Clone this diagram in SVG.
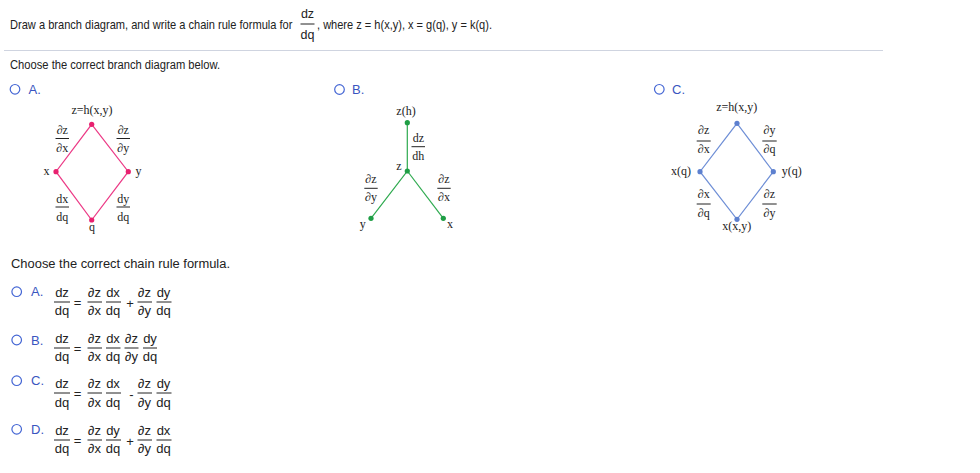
<svg xmlns="http://www.w3.org/2000/svg" width="980" height="473" viewBox="0 0 980 473">
<style>
.t{font-family:"Liberation Sans",Arial,sans-serif;font-size:12.5px;fill:#222}
.f{font-family:"Liberation Sans",Arial,sans-serif;font-size:13px;fill:#222;text-anchor:middle}
.op{font-family:"Liberation Sans",Arial,sans-serif;font-size:13px;fill:#222;text-anchor:middle}
.lab{font-family:"Liberation Sans",Arial,sans-serif;font-size:13px;fill:#3a55c0}
.s{font-family:"Liberation Serif","Times New Roman",serif;font-size:12px;fill:#222;text-anchor:middle}
.bar{stroke:#222;stroke-width:1}
.radio{fill:#fff;stroke:#4466d4;stroke-width:1.2}
.pink{stroke:#ec3a86;stroke-width:1.2;fill:none}
.green{stroke:#2eaa4f;stroke-width:1.2;fill:none}
.blue{stroke:#6f8fd6;stroke-width:1.2;fill:none}
.dp{fill:#e8206f}
.dg{fill:#1f9e45}
.db{fill:#5d80cf}
</style>
<rect width="980" height="473" fill="#fff"/>

<g id="header">
<text class="t" transform="translate(10,29) scale(0.887,1)">Draw a branch diagram, and write a chain rule formula for</text>
<text class="t" x="307.5" y="18" text-anchor="middle" font-size="12">dz</text>
<line class="bar" x1="300.5" y1="24" x2="314.5" y2="24"/>
<text class="t" x="307.5" y="38.5" text-anchor="middle" font-size="12">dq</text>
<text class="t" x="317" y="29" textLength="175" lengthAdjust="spacingAndGlyphs">, where z = h(x,y), x = g(q), y = k(q).</text>
<line x1="4" y1="50.5" x2="883" y2="50.5" stroke="#cfd4e0" stroke-width="1.2"/>
<text class="t" x="10" y="68.5" textLength="210" lengthAdjust="spacingAndGlyphs">Choose the correct branch diagram below.</text>
</g>

<g id="optA">
<circle class="radio" cx="15" cy="89.3" r="4.8"/>
<text class="lab" x="28.5" y="94">A.</text>
</g>
<g id="optB">
<circle class="radio" cx="339.5" cy="89.5" r="4.8"/>
<text class="lab" x="352" y="94">B.</text>
</g>
<g id="optC">
<circle class="radio" cx="659.3" cy="89.3" r="4.8"/>
<text class="lab" x="672" y="94">C.</text>
</g>

<g id="connectors">
<polygon class="pink" points="91.7,124.3 128.3,171.7 91.7,220 56,171.7"/>
<polyline class="green" points="407.3,122.7 407.3,171 371,218.3"/>
<line class="green" x1="407.3" y1="171" x2="443.3" y2="218.3"/>
<polygon class="blue" points="737,123.3 773.3,171.7 737,219.3 700,171.7"/>
</g>

<g id="diagramA">
<g id="a-top"><circle class="dp" cx="91.7" cy="124.3" r="2.6"/><text class="s" x="92" y="114">z=h(x,y)</text></g>
<g id="a-x"><circle class="dp" cx="56" cy="171.7" r="2.6"/><text class="s" x="46.5" y="175">x</text></g>
<g id="a-y"><circle class="dp" cx="128.3" cy="171.7" r="2.6"/><text class="s" x="138.5" y="175">y</text></g>
<g id="a-q"><circle class="dp" cx="91.7" cy="220" r="2.6"/><text class="s" x="92" y="231">q</text></g>
<g id="a-f1"><text class="s" x="62.3" y="133.5">∂z</text><line class="bar" x1="55.5" y1="138.5" x2="69" y2="138.5"/><text class="s" x="62.3" y="151.5">∂x</text></g>
<g id="a-f2"><text class="s" x="123.3" y="133.5">∂z</text><line class="bar" x1="116.5" y1="138.5" x2="130" y2="138.5"/><text class="s" x="123.3" y="151.5">∂y</text></g>
<g id="a-f3"><text class="s" x="62.3" y="203">dx</text><line class="bar" x1="55.5" y1="207" x2="69" y2="207"/><text class="s" x="62.3" y="220.5">dq</text></g>
<g id="a-f4"><text class="s" x="123.3" y="203">dy</text><line class="bar" x1="116.5" y1="207" x2="130" y2="207"/><text class="s" x="123.3" y="220.5">dq</text></g>
</g>

<g id="diagramB">
<g id="b-zh"><circle class="dg" cx="407.3" cy="122.7" r="2.6"/><text class="s" x="406" y="115">z(h)</text></g>
<g id="b-z"><circle class="dg" cx="407.3" cy="171" r="2.6"/><text class="s" x="399" y="170">z</text></g>
<g id="b-y"><circle class="dg" cx="371" cy="218.3" r="2.6"/><text class="s" x="362.7" y="227.5">y</text></g>
<g id="b-x"><circle class="dg" cx="443.3" cy="218.3" r="2.6"/><text class="s" x="450" y="228">x</text></g>
<g id="b-f1"><text class="s" x="418.3" y="142">dz</text><line class="bar" x1="411.5" y1="146.7" x2="425" y2="146.7"/><text class="s" x="418.3" y="160">dh</text></g>
<g id="b-f2"><text class="s" x="371" y="183">∂z</text><line class="bar" x1="364.3" y1="188.3" x2="377.7" y2="188.3"/><text class="s" x="371" y="201">∂y</text></g>
<g id="b-f3"><text class="s" x="444" y="183">∂z</text><line class="bar" x1="437.3" y1="188.3" x2="450.7" y2="188.3"/><text class="s" x="444" y="201">∂x</text></g>
</g>

<g id="diagramC">
<g id="c-top"><circle class="db" cx="737" cy="123.3" r="2.6"/><text class="s" x="736.7" y="111">z=h(x,y)</text></g>
<g id="c-x"><circle class="db" cx="700" cy="171.7" r="2.6"/><text class="s" x="691" y="175" style="text-anchor:end">x(q)</text></g>
<g id="c-y"><circle class="db" cx="773.3" cy="171.7" r="2.6"/><text class="s" x="781.7" y="175" style="text-anchor:start">y(q)</text></g>
<g id="c-bot"><circle class="db" cx="737" cy="219.3" r="2.6"/><text class="s" x="736.7" y="229.5">x(x,y)</text></g>
<g id="c-f1"><text class="s" x="703.7" y="133.5">∂z</text><line class="bar" x1="696.7" y1="141" x2="710.7" y2="141"/><text class="s" x="703.7" y="152.5">∂x</text></g>
<g id="c-f2"><text class="s" x="769.5" y="133.5">∂y</text><line class="bar" x1="762.3" y1="141" x2="776.7" y2="141"/><text class="s" x="769.5" y="152.5">∂q</text></g>
<g id="c-f3"><text class="s" x="703.7" y="198">∂x</text><line class="bar" x1="696.7" y1="204" x2="710.7" y2="204"/><text class="s" x="703.7" y="217">∂q</text></g>
<g id="c-f4"><text class="s" x="769.5" y="198">∂z</text><line class="bar" x1="762.3" y1="204" x2="776.7" y2="204"/><text class="s" x="769.5" y="217">∂y</text></g>
</g>

<g id="formulas">
<text class="t" x="11" y="268.3" font-size="13" textLength="219" lengthAdjust="spacingAndGlyphs">Choose the correct chain rule formula.</text>

<g id="fA">
<circle class="radio" cx="16.7" cy="291.7" r="4.8"/>
<text class="lab" x="31" y="296">A.</text>
<text class="f" x="62" y="297">dz</text><line class="bar" x1="54" y1="302" x2="70" y2="302"/><text class="f" x="62" y="315">dq</text>
<text class="op" x="77.5" y="307">=</text>
<text class="f" x="94.5" y="297">∂z</text><line class="bar" x1="87.5" y1="302" x2="102" y2="302"/><text class="f" x="94.5" y="315">∂x</text>
<text class="f" x="113" y="297">dx</text><line class="bar" x1="106" y1="302" x2="121" y2="302"/><text class="f" x="113" y="315">dq</text>
<text class="op" x="130" y="308">+</text>
<text class="f" x="144.5" y="297">∂z</text><line class="bar" x1="137.5" y1="302" x2="152" y2="302"/><text class="f" x="144.5" y="315">∂y</text>
<text class="f" x="163.5" y="297">dy</text><line class="bar" x1="156.5" y1="302" x2="171.5" y2="302"/><text class="f" x="163.5" y="315">dq</text>
</g>

<g id="fB">
<circle class="radio" cx="16.7" cy="340" r="4.8"/>
<text class="lab" x="31" y="344.5">B.</text>
<text class="f" x="62" y="343">dz</text><line class="bar" x1="54" y1="348" x2="70" y2="348"/><text class="f" x="62" y="361">dq</text>
<text class="op" x="77.5" y="353">=</text>
<text class="f" x="94.5" y="343">∂z</text><line class="bar" x1="87.5" y1="348" x2="102" y2="348"/><text class="f" x="94.5" y="361">∂x</text>
<text class="f" x="113" y="343">dx</text><line class="bar" x1="106" y1="348" x2="120.5" y2="348"/><text class="f" x="113" y="361">dq</text>
<text class="f" x="131.5" y="343">∂z</text><line class="bar" x1="124.5" y1="348" x2="138.5" y2="348"/><text class="f" x="131.5" y="361">∂y</text>
<text class="f" x="150" y="343">dy</text><line class="bar" x1="143" y1="348" x2="157" y2="348"/><text class="f" x="150" y="361">dq</text>
</g>

<g id="fC">
<circle class="radio" cx="16.7" cy="380.7" r="4.8"/>
<text class="lab" x="31" y="385">C.</text>
<text class="f" x="62" y="388">dz</text><line class="bar" x1="54" y1="393" x2="70" y2="393"/><text class="f" x="62" y="406.5">dq</text>
<text class="op" x="77.5" y="398">=</text>
<text class="f" x="94.5" y="388">∂z</text><line class="bar" x1="87.5" y1="393" x2="102" y2="393"/><text class="f" x="94.5" y="406.5">∂x</text>
<text class="f" x="113" y="388">dx</text><line class="bar" x1="106" y1="393" x2="121" y2="393"/><text class="f" x="113" y="406.5">dq</text>
<text class="op" x="131.5" y="398.5">-</text>
<text class="f" x="144.5" y="388">∂z</text><line class="bar" x1="137.5" y1="393" x2="152" y2="393"/><text class="f" x="144.5" y="406.5">∂y</text>
<text class="f" x="163.5" y="388">dy</text><line class="bar" x1="156.5" y1="393" x2="171.5" y2="393"/><text class="f" x="163.5" y="406.5">dq</text>
</g>

<g id="fD">
<circle class="radio" cx="16.7" cy="429.3" r="4.8"/>
<text class="lab" x="31" y="433.5">D.</text>
<text class="f" x="62" y="435">dz</text><line class="bar" x1="54" y1="440" x2="70" y2="440"/><text class="f" x="62" y="453">dq</text>
<text class="op" x="77.5" y="445">=</text>
<text class="f" x="94.5" y="435">∂z</text><line class="bar" x1="87.5" y1="440" x2="102" y2="440"/><text class="f" x="94.5" y="453">∂x</text>
<text class="f" x="113" y="435">dy</text><line class="bar" x1="106" y1="440" x2="121" y2="440"/><text class="f" x="113" y="453">dq</text>
<text class="op" x="130" y="446">+</text>
<text class="f" x="144.5" y="435">∂z</text><line class="bar" x1="137.5" y1="440" x2="152" y2="440"/><text class="f" x="144.5" y="453">∂y</text>
<text class="f" x="163.5" y="435">dx</text><line class="bar" x1="156.5" y1="440" x2="171.5" y2="440"/><text class="f" x="163.5" y="453">dq</text>
</g>
</g>
</svg>
